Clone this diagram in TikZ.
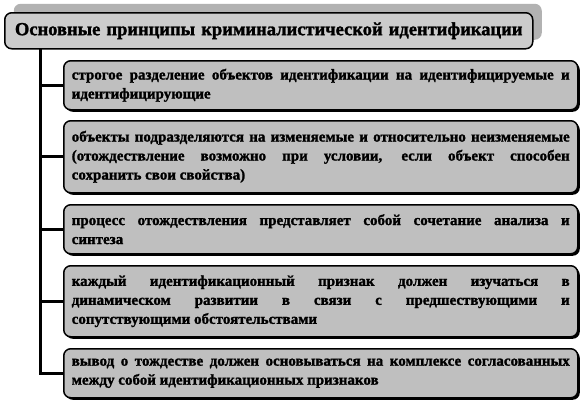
\documentclass[tikz,border=0pt]{standalone}
\usepackage{fontspec}
\setmainfont[BoldFeatures={FakeBold=1.5}]{Liberation Serif}
\usetikzlibrary{shadows}
\tikzset{
	princbox/.style={draw, line width=1.5pt, rounded corners=7pt, fill=black!25,
		anchor=north west, text width=498pt, inner xsep=8pt, inner ysep=2pt,
		align=justify, font=\fontsize{15}{19}\selectfont\bfseries,
		copy shadow={shadow xshift=2pt, shadow yshift=-2pt, fill=black, draw=none}},
	titlebox/.style={draw, line width=1.5pt, rounded corners=7pt, fill=black!20,
		anchor=north west, text width=512pt, inner xsep=8pt, minimum height=36pt,
		align=center, font=\fontsize{18.5}{21}\selectfont\bfseries,
		copy shadow={shadow xshift=9pt, shadow yshift=9pt, fill=black!30, draw=none}},
	trunkline/.style={line width=3pt, color=black}
}
\begin{document}
\begin{tikzpicture}[x=1pt, y=-1pt]
		%%%%% START %%%%%
		\useasboundingbox (0, 0) rectangle (584, 400);
		\hyphenpenalty=10000 \emergencystretch=20pt
		
		\node[titlebox] (title) at (4, 12) {Основные принципы криминалистической идентификации};
		
		\node[princbox, minimum height=49pt] (b1) at (63, 60) {строгое разделение объектов идентификации на идентифицируемые и\linebreak идентифицирующие};
		\node[princbox, minimum height=72pt] (b2) at (63, 120) {объекты подразделяются на изменяемые и относительно неизменяемые\linebreak (отождествление возможно при условии, если объект способен\linebreak сохранить свои свойства)};
		\node[princbox, minimum height=49pt] (b3) at (63, 204) {процесс отождествления представляет собой сочетание анализа и\linebreak синтеза};
		\node[princbox, minimum height=71pt] (b4) at (63, 265) {каждый идентификационный признак должен изучаться в\linebreak динамическом развитии в связи с предшествующими и\linebreak сопутствующими обстоятельствами};
		\node[princbox, minimum height=49pt] (b5) at (63, 348) {вывод о тождестве должен основываться на комплексе согласованных\linebreak между собой идентификационных признаков};
		
		\coordinate (trunk) at (40, 48);
		\draw[trunkline] (trunk) |- (b5.west);
		\foreach \b in {b1, b2, b3, b4}
			\draw[trunkline] (trunk |- \b.west) -- (\b.west);
		
		%%%%% END %%%%%
	\end{tikzpicture}
\end{document}
